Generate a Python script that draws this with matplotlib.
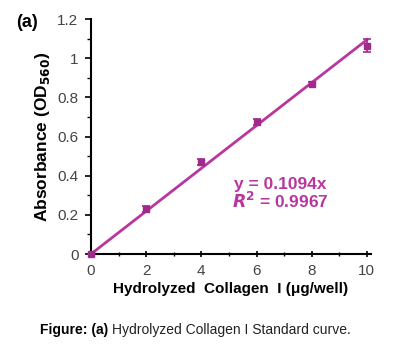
import matplotlib.pyplot as plt
import numpy as np
from matplotlib.ticker import MultipleLocator

plt.rcParams['font.family'] = ['Liberation Sans', 'DejaVu Sans']

conc = [0, 2, 4, 6, 8, 10]
od = [0.0, 0.23, 0.47, 0.675, 0.868, 1.065]
err = [0.01, 0.015, 0.015, 0.015, 0.012, 0.035]
slope = 0.1094
r2 = 0.9967

purple = '#A02A8C'
magenta = '#B8369E'

fig = plt.figure(figsize=(4, 3.62), dpi=100)
ax = fig.add_axes([0.2275, 0.2983, 0.7, 0.649])

xf = np.array([0, 10])
ax.plot(xf, slope * xf, color=magenta, lw=2, zorder=2)
eb = ax.errorbar(conc, od, yerr=err, fmt='s', color=purple, ms=5, capsize=3,
                 elinewidth=1.2, capthick=1.2, zorder=3)
for a in eb.lines[0:1]:
    a.set_clip_on(False)

ax.set_xlim(0, 10.15)
ax.set_ylim(0, 1.2)
ax.xaxis.set_major_locator(MultipleLocator(2))
ax.xaxis.set_minor_locator(MultipleLocator(1))
ax.yaxis.set_minor_locator(MultipleLocator(0.1))
ax.set_yticks([0, 0.2, 0.4, 0.6, 0.8, 1.0, 1.2])
ax.set_yticklabels(['0', '0.2', '0.4', '0.6', '0.8', '1', '1.2'])
for s in ['top', 'right']:
    ax.spines[s].set_visible(False)
for s in ['left', 'bottom']:
    ax.spines[s].set_linewidth(1.5)
ax.tick_params(axis='both', which='major', labelsize=11, labelcolor='#444444',
               length=4, width=1.2)
ax.tick_params(axis='both', which='minor', length=3, width=1)
ax.tick_params(axis='x', which='both', direction='inout', pad=5)
ax.tick_params(axis='y', which='major', pad=5)

ax.set_ylabel('Absorbance (OD$_{\\mathbf{560}}$)', fontsize=12.5, fontweight='bold', labelpad=4)
ax.set_xlabel('Hydrolyzed  Collagen  I (μg/well)', fontsize=11, fontweight='bold', labelpad=3)

ax.text(6.85, 0.33, 'y = 0.1094x', color=magenta, fontsize=12.5, fontweight='bold', ha='center')
ax.text(6.85, 0.235, '$\\mathbfit{R}^{\\mathbf{2}}$ = 0.9967', color=magenta, fontsize=12.5,
        fontweight='bold', ha='center')

fig.text(0.04, 0.925, '(a)', fontsize=13, fontweight='bold')
t1 = fig.text(0.10, 0.078, 'Figure: (a) ', fontsize=10, fontweight='bold')
fig.canvas.draw()
bb = t1.get_window_extent().transformed(fig.transFigure.inverted())
fig.text(bb.x1, 0.078, 'Hydrolyzed Collagen I Standard curve.', fontsize=10, color='#222222')

fig.savefig('out.png', dpi=100)
